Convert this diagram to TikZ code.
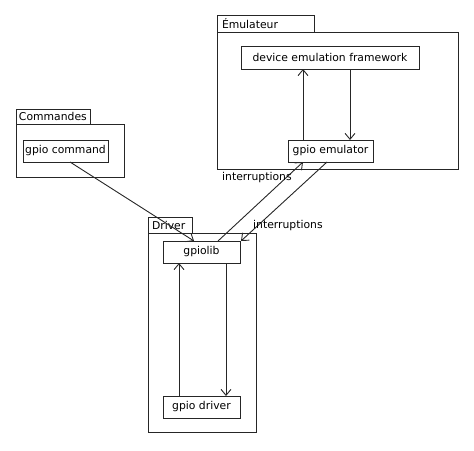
\documentclass[tikz,border=0pt]{standalone}
\usepackage{fontspec}
\setmainfont{DejaVu Sans}
\usetikzlibrary{arrows.meta}
\tikzset{
  box/.style={draw=black!85, line width=0.9pt, inner sep=0pt, font=\fontsize{10.8}{13}\selectfont},
  tab/.style={draw=black!85, line width=0.9pt, inner sep=0pt, font=\fontsize{10.8}{13}\selectfont, align=left},
  pkg/.style={draw=black!85, line width=0.9pt, inner sep=0pt},
  flow/.style={draw=black!85, line width=0.9pt, -{Straight Barb[length=6pt,width=10pt]}},
  lbl/.style={font=\fontsize{10.8}{13}\selectfont, inner sep=0pt}
}
\begin{document}
\begin{tikzpicture}[x=1pt,y=-1pt]
\useasboundingbox (0,0) rectangle (474,450);
% Emulateur package
\node[pkg, minimum width=241, minimum height=137] (emubody) at (337.5,100.5) {};
\node[tab, minimum width=97, minimum height=17, text width=87] (emutab) at (265.5,23.5) {Émulateur};
\node[box, minimum width=178, minimum height=23] (frame) at (330,57.5) {device emulation framework};
\node[box, minimum width=85, minimum height=22] (emu) at (330.5,151) {gpio emulator};
% Commandes package
\node[pkg, minimum width=108, minimum height=53] (cmdbody) at (70,150.5) {};
\node[tab, minimum width=74, minimum height=15, text width=68] (cmdtab) at (53,116.5) {Commandes};
\node[box, minimum width=85, minimum height=22] (cmd) at (65.5,151) {gpio command};
% Driver package
\node[pkg, minimum width=108, minimum height=199] (drvbody) at (202,332.5) {};
\node[tab, minimum width=44, minimum height=16, text width=36] (drvtab) at (170,225) {Driver};
\node[box, minimum width=77, minimum height=22] (lib) at (201.5,252) {gpiolib};
\node[box, minimum width=77, minimum height=22] (drv) at (201.5,407) {gpio driver};
% anchors on box borders
\coordinate (emuUp) at (303,140);
\coordinate (frameUp) at (303,69);
\coordinate (frameDn) at (350,69);
\coordinate (emuDn) at (350,140);
\coordinate (emuBL) at (303,162);
\coordinate (emuBR) at (327,162);
\coordinate (libTL) at (218,241);
\coordinate (libTR) at (241,241);
\coordinate (libTC) at (194,241);
\coordinate (cmdB) at (70,162);
\coordinate (libBL) at (179,263);
\coordinate (libBR) at (226,263);
\coordinate (drvTL) at (179,396);
\coordinate (drvTR) at (226,396);
% connectors
\draw[flow] (emuUp) -- (frameUp);
\draw[flow] (frameDn) -- (emuDn);
\draw[flow] (cmdB) -- (libTC);
\draw[flow] (libTL) -- (emuBL);
\draw[flow] (emuBR) -- (libTR);
\draw[flow] (drvTL) -- (libBL);
\draw[flow] (libBR) -- (drvTR);
\node[lbl, anchor=west] (int1) at (222,178) {interruptions};
\node[lbl, anchor=west] (int2) at (253,226) {interruptions};
\end{tikzpicture}
\end{document}
